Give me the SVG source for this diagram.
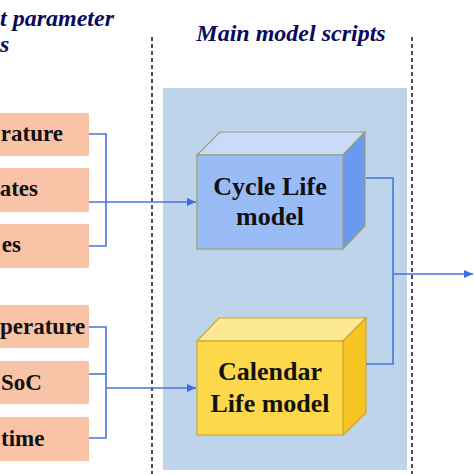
<svg xmlns="http://www.w3.org/2000/svg" width="474" height="474" viewBox="0 0 474 474">
<defs>
<style>
.title{font-family:"Liberation Serif",serif;font-weight:bold;font-style:italic;font-size:24px;fill:#0b0b5c}
.lbl{font-family:"Liberation Serif",serif;font-weight:bold;font-size:23px;fill:#111}
.mdl{font-family:"Liberation Serif",serif;font-weight:bold;font-size:26px;fill:#111;text-anchor:middle}
.pink{fill:#f9c3a8}
.dash{stroke:#222;stroke-width:1.6;stroke-dasharray:4 3;fill:none}
.con{stroke:#4a72e0;stroke-width:1.6;fill:none}
</style>
<marker id="ah" markerWidth="10" markerHeight="10" refX="9" refY="5" orient="auto" markerUnits="userSpaceOnUse">
<path d="M0,1 L9,5 L0,9 Z" fill="#3f6ae6"/>
</marker>
</defs>
<rect width="474" height="474" fill="#fff"/>

<text class="title" x="0" y="26">t parameter</text>
<text class="title" x="0" y="52">s</text>
<text class="title" x="291" y="41" text-anchor="middle">Main model scripts</text>

<line class="dash" x1="152" y1="37" x2="152" y2="474"/>
<line class="dash" x1="412" y1="37" x2="412" y2="474"/>

<rect x="163" y="88" width="244" height="382" fill="#bdd4ea"/>

<g id="in1"><rect class="pink" x="0" y="113" width="89" height="43"/><text class="lbl" x="63" y="141" text-anchor="end">rature</text></g>
<g id="in2"><rect class="pink" x="0" y="168" width="89" height="44"/><text class="lbl" x="38" y="196" text-anchor="end">ates</text></g>
<g id="in3"><rect class="pink" x="0" y="224" width="89" height="44"/><text class="lbl" x="21" y="252" text-anchor="end">es</text></g>
<g id="in4"><rect class="pink" x="0" y="305" width="89" height="43"/><text class="lbl" x="0" y="334">perature</text></g>
<g id="in5"><rect class="pink" x="0" y="361" width="89" height="43"/><text class="lbl" x="1" y="390">SoC</text></g>
<g id="in6"><rect class="pink" x="0" y="417" width="89" height="44"/><text class="lbl" x="1" y="446">time</text></g>

<g id="cycle">
<polygon points="197,155 220,132 365,132 343,155" fill="#c8dcfa" stroke="#9aa070" stroke-width="1.2"/>
<polygon points="343,155 365,132 365,226 343,249" fill="#6a9af0" stroke="#9aa070" stroke-width="1.2"/>
<rect x="197" y="155" width="146" height="94" fill="#99bbf6" stroke="#9aa070" stroke-width="1.2"/>
<text class="mdl" x="270" y="195">Cycle Life</text>
<text class="mdl" x="270" y="225">model</text>
</g>

<g id="calendar">
<polygon points="197,341 219,318 366,318 343,341" fill="#fde894" stroke="#c8a838" stroke-width="1.2"/>
<polygon points="343,341 366,318 366,413 343,435" fill="#f8c424" stroke="#c8a838" stroke-width="1.2"/>
<rect x="197" y="341" width="146" height="94" fill="#fdd84a" stroke="#c8a838" stroke-width="1.2"/>
<text class="mdl" x="270" y="380">Calendar</text>
<text class="mdl" x="270" y="412">Life model</text>
</g>

<g id="connectors">
<polyline class="con" points="89,134 106,134 106,246 89,246"/>
<line class="con" x1="89" y1="202" x2="196" y2="202" marker-end="url(#ah)"/>
<polyline class="con" points="89,327 106,327 106,438 89,438"/>
<line class="con" x1="89" y1="374" x2="106" y2="374"/>
<line class="con" x1="106" y1="388" x2="196" y2="388" marker-end="url(#ah)"/>
<polyline class="con" points="366,178 393,178 393,364 366,364"/>
<line class="con" x1="393" y1="274" x2="473" y2="274" marker-end="url(#ah)"/>
</g>
</svg>
